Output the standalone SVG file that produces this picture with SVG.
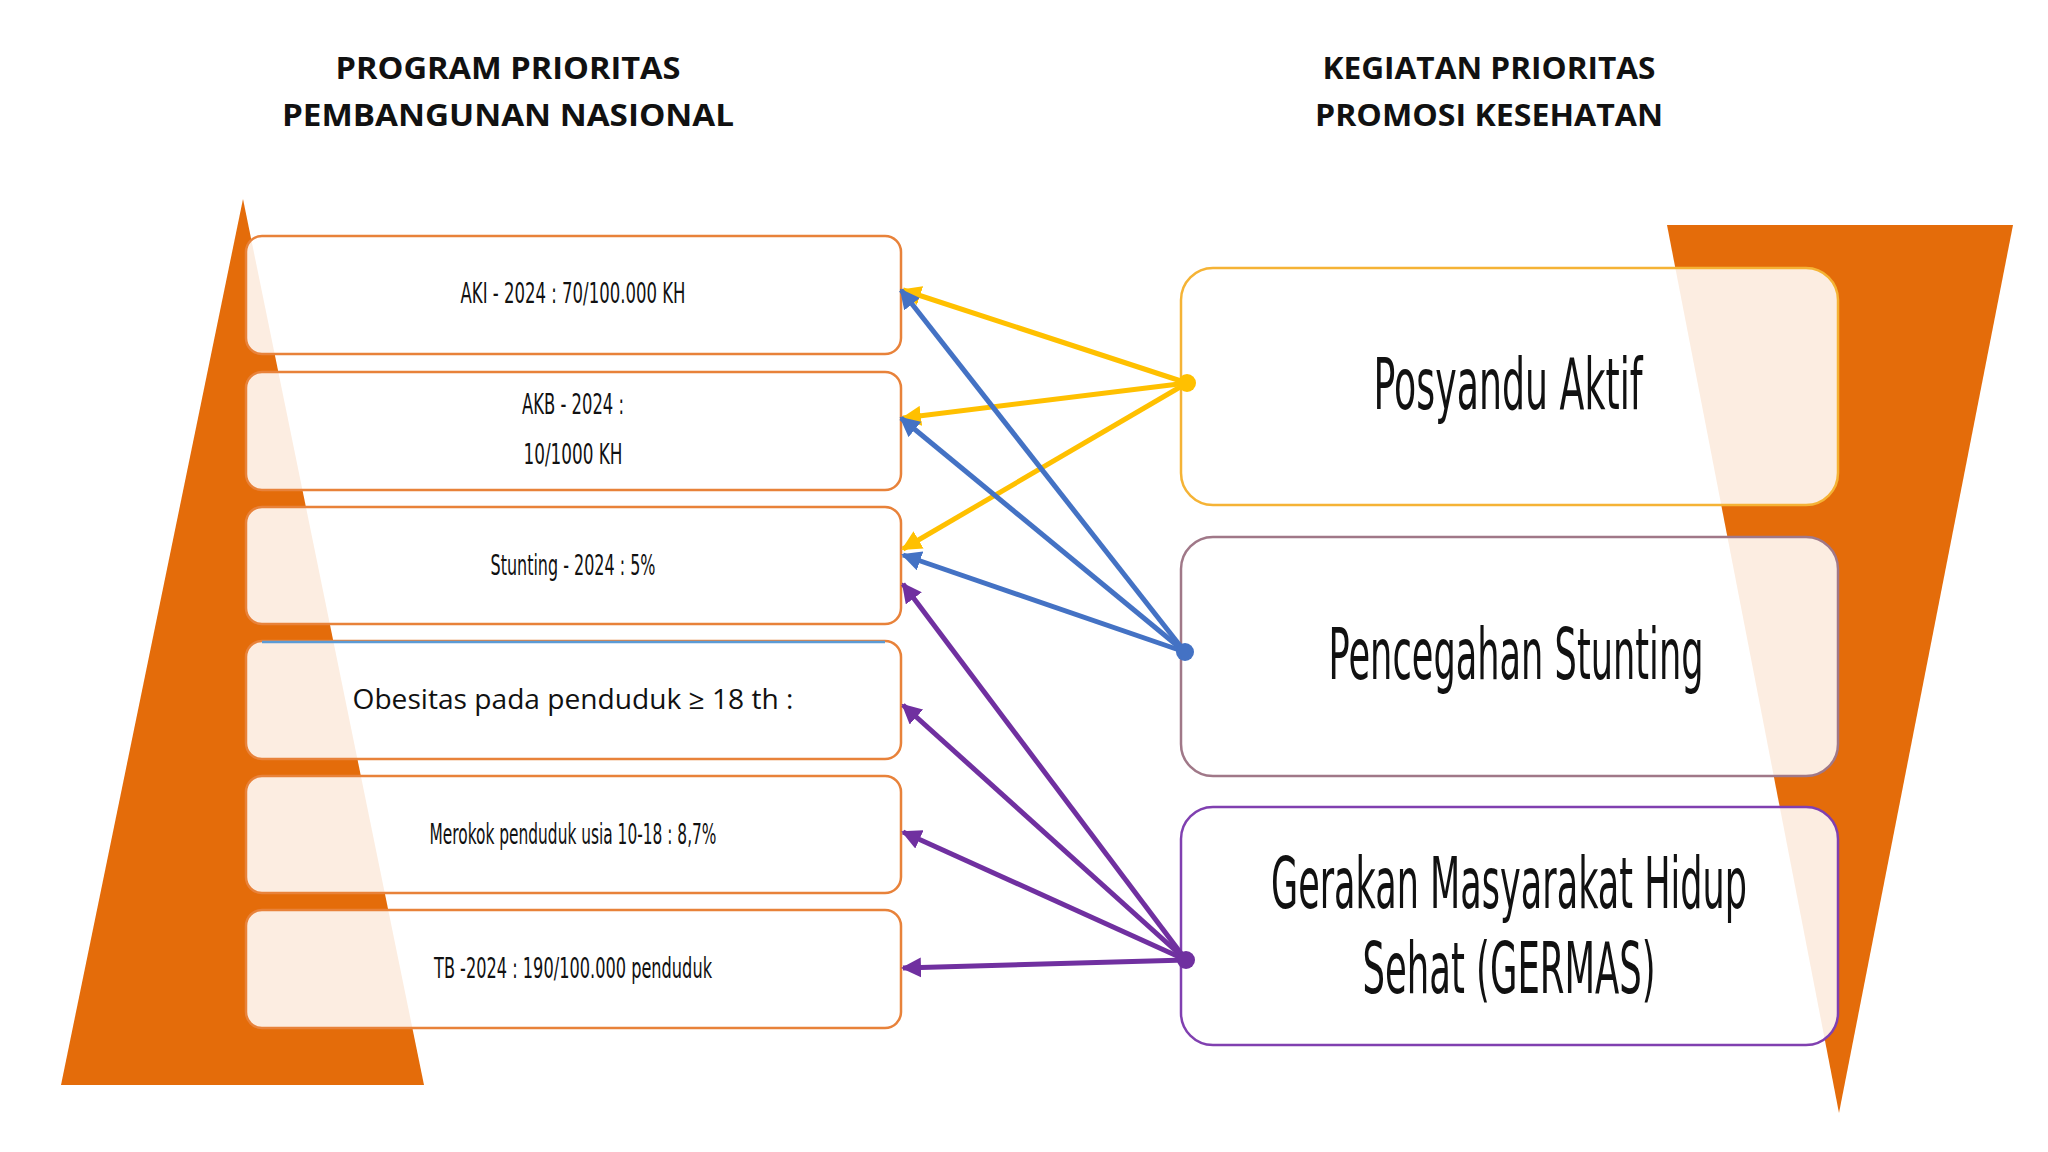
<svg xmlns="http://www.w3.org/2000/svg" width="2048" height="1152" viewBox="0 0 2048 1152">
<defs>
<marker id="ay" viewBox="0 0 10 10" refX="9" refY="5" markerWidth="4" markerHeight="4" orient="auto"><path d="M0,0L10,5L0,10z" fill="#FFC000"/></marker>
<marker id="ab" viewBox="0 0 10 10" refX="9" refY="5" markerWidth="4" markerHeight="4" orient="auto"><path d="M0,0L10,5L0,10z" fill="#4472C4"/></marker>
<marker id="ap" viewBox="0 0 10 10" refX="9" refY="5" markerWidth="4" markerHeight="4" orient="auto"><path d="M0,0L10,5L0,10z" fill="#7030A0"/></marker>
</defs>
<style>
.hd{font-family:"Open Sans","Liberation Sans",sans-serif;font-weight:bold;font-size:30px;fill:#111;text-anchor:middle}
.lb{fill:#fff;fill-opacity:0.88;stroke:#E8823A;stroke-width:2.5}
.rb{fill:#fff;fill-opacity:0.88;stroke-width:2.5}
.sm{font-family:"DejaVu Sans","Liberation Sans",sans-serif;font-size:28px;fill:#111;text-anchor:middle}
.big{font-family:"DejaVu Sans","Liberation Sans",sans-serif;font-size:72px;fill:#111;text-anchor:middle}
.y{stroke:#FFC000;stroke-width:5;fill:none;marker-end:url(#ay)}
.b{stroke:#4472C4;stroke-width:5;fill:none;marker-end:url(#ab)}
.p{stroke:#7030A0;stroke-width:5;fill:none;marker-end:url(#ap)}
</style>
<rect width="2048" height="1152" fill="#fff"/>
<text class="hd" x="508" y="79" textLength="345" lengthAdjust="spacingAndGlyphs">PROGRAM PRIORITAS</text>
<text class="hd" x="508" y="126" textLength="452" lengthAdjust="spacingAndGlyphs">PEMBANGUNAN  NASIONAL</text>
<text class="hd" x="1489" y="79" textLength="333" lengthAdjust="spacingAndGlyphs">KEGIATAN PRIORITAS</text>
<text class="hd" x="1489" y="126" textLength="348" lengthAdjust="spacingAndGlyphs">PROMOSI KESEHATAN</text>
<polygon points="243,199 61,1085 424,1085" fill="#E46C0A"/>
<polygon points="1667,225 2013,225 1839,1113" fill="#E46C0A"/>
<g id="n1"><rect class="lb" x="246" y="236" width="655" height="118" rx="16"/><text class="sm" x="573" y="303" textLength="225" lengthAdjust="spacingAndGlyphs">AKI - 2024 : 70/100.000 KH</text></g>
<g id="n2"><rect class="lb" x="246" y="372" width="655" height="118" rx="16"/><text class="sm" x="573" y="414" textLength="102" lengthAdjust="spacingAndGlyphs">AKB - 2024 :</text><text class="sm" x="573" y="464" textLength="99" lengthAdjust="spacingAndGlyphs">10/1000 KH</text></g>
<g id="n3"><rect class="lb" x="246" y="507" width="655" height="117" rx="16"/><text class="sm" x="573" y="575" textLength="165" lengthAdjust="spacingAndGlyphs">Stunting - 2024 : 5%</text></g>
<g id="n4"><rect class="lb" x="246" y="641" width="655" height="118" rx="16" style="stroke:#E8823A"/><path d="M262,642 H885" stroke="#5B9BD5" stroke-width="2.5" fill="none"/><text x="573" y="709" font-family="'Open Sans','Liberation Sans',sans-serif" font-size="27" fill="#111" text-anchor="middle" textLength="441" lengthAdjust="spacingAndGlyphs">Obesitas pada penduduk ≥ 18 th :</text></g>
<g id="n5"><rect class="lb" x="246" y="776" width="655" height="117" rx="16"/><text class="sm" x="573" y="844" textLength="287" lengthAdjust="spacingAndGlyphs">Merokok penduduk usia 10-18 : 8,7%</text></g>
<g id="n6"><rect class="lb" x="246" y="910" width="655" height="118" rx="16"/><text class="sm" x="573" y="978" textLength="278" lengthAdjust="spacingAndGlyphs">TB -2024 : 190/100.000 penduduk</text></g>
<g id="r1"><rect class="rb" x="1181" y="268" width="657" height="237" rx="32" stroke="#F5B335"/><text class="big" x="1508" y="409" textLength="269" lengthAdjust="spacingAndGlyphs">Posyandu Aktif</text></g>
<g id="r2"><rect class="rb" x="1181" y="537" width="657" height="239" rx="32" stroke="#A07888"/><text class="big" x="1516" y="679" textLength="375" lengthAdjust="spacingAndGlyphs">Pencegahan Stunting</text></g>
<g id="r3"><rect class="rb" x="1181" y="807" width="657" height="238" rx="32" stroke="#8040B0"/><text class="big" x="1509" y="908" textLength="476" lengthAdjust="spacingAndGlyphs">Gerakan Masyarakat Hidup</text><text class="big" x="1509" y="993" textLength="293" lengthAdjust="spacingAndGlyphs">Sehat (GERMAS)</text></g>
<g id="connectors">
<path class="y" d="M1187,383 L903,290"/>
<path class="y" d="M1187,383 L903,418"/>
<path class="y" d="M1187,383 L903,549"/>
<path class="b" d="M1185,652 L901,290"/>
<path class="b" d="M1185,652 L901,418"/>
<path class="b" d="M1185,652 L903,555"/>
<path class="p" d="M1186,960 L903,584"/>
<path class="p" d="M1186,960 L903,705"/>
<path class="p" d="M1186,960 L903,832"/>
<path class="p" d="M1186,960 L903,968"/>
<circle cx="1187" cy="383" r="9" fill="#FFC000"/>
<circle cx="1185" cy="652" r="9" fill="#4472C4"/>
<circle cx="1186" cy="960" r="9" fill="#7030A0"/>
</g>
</svg>
